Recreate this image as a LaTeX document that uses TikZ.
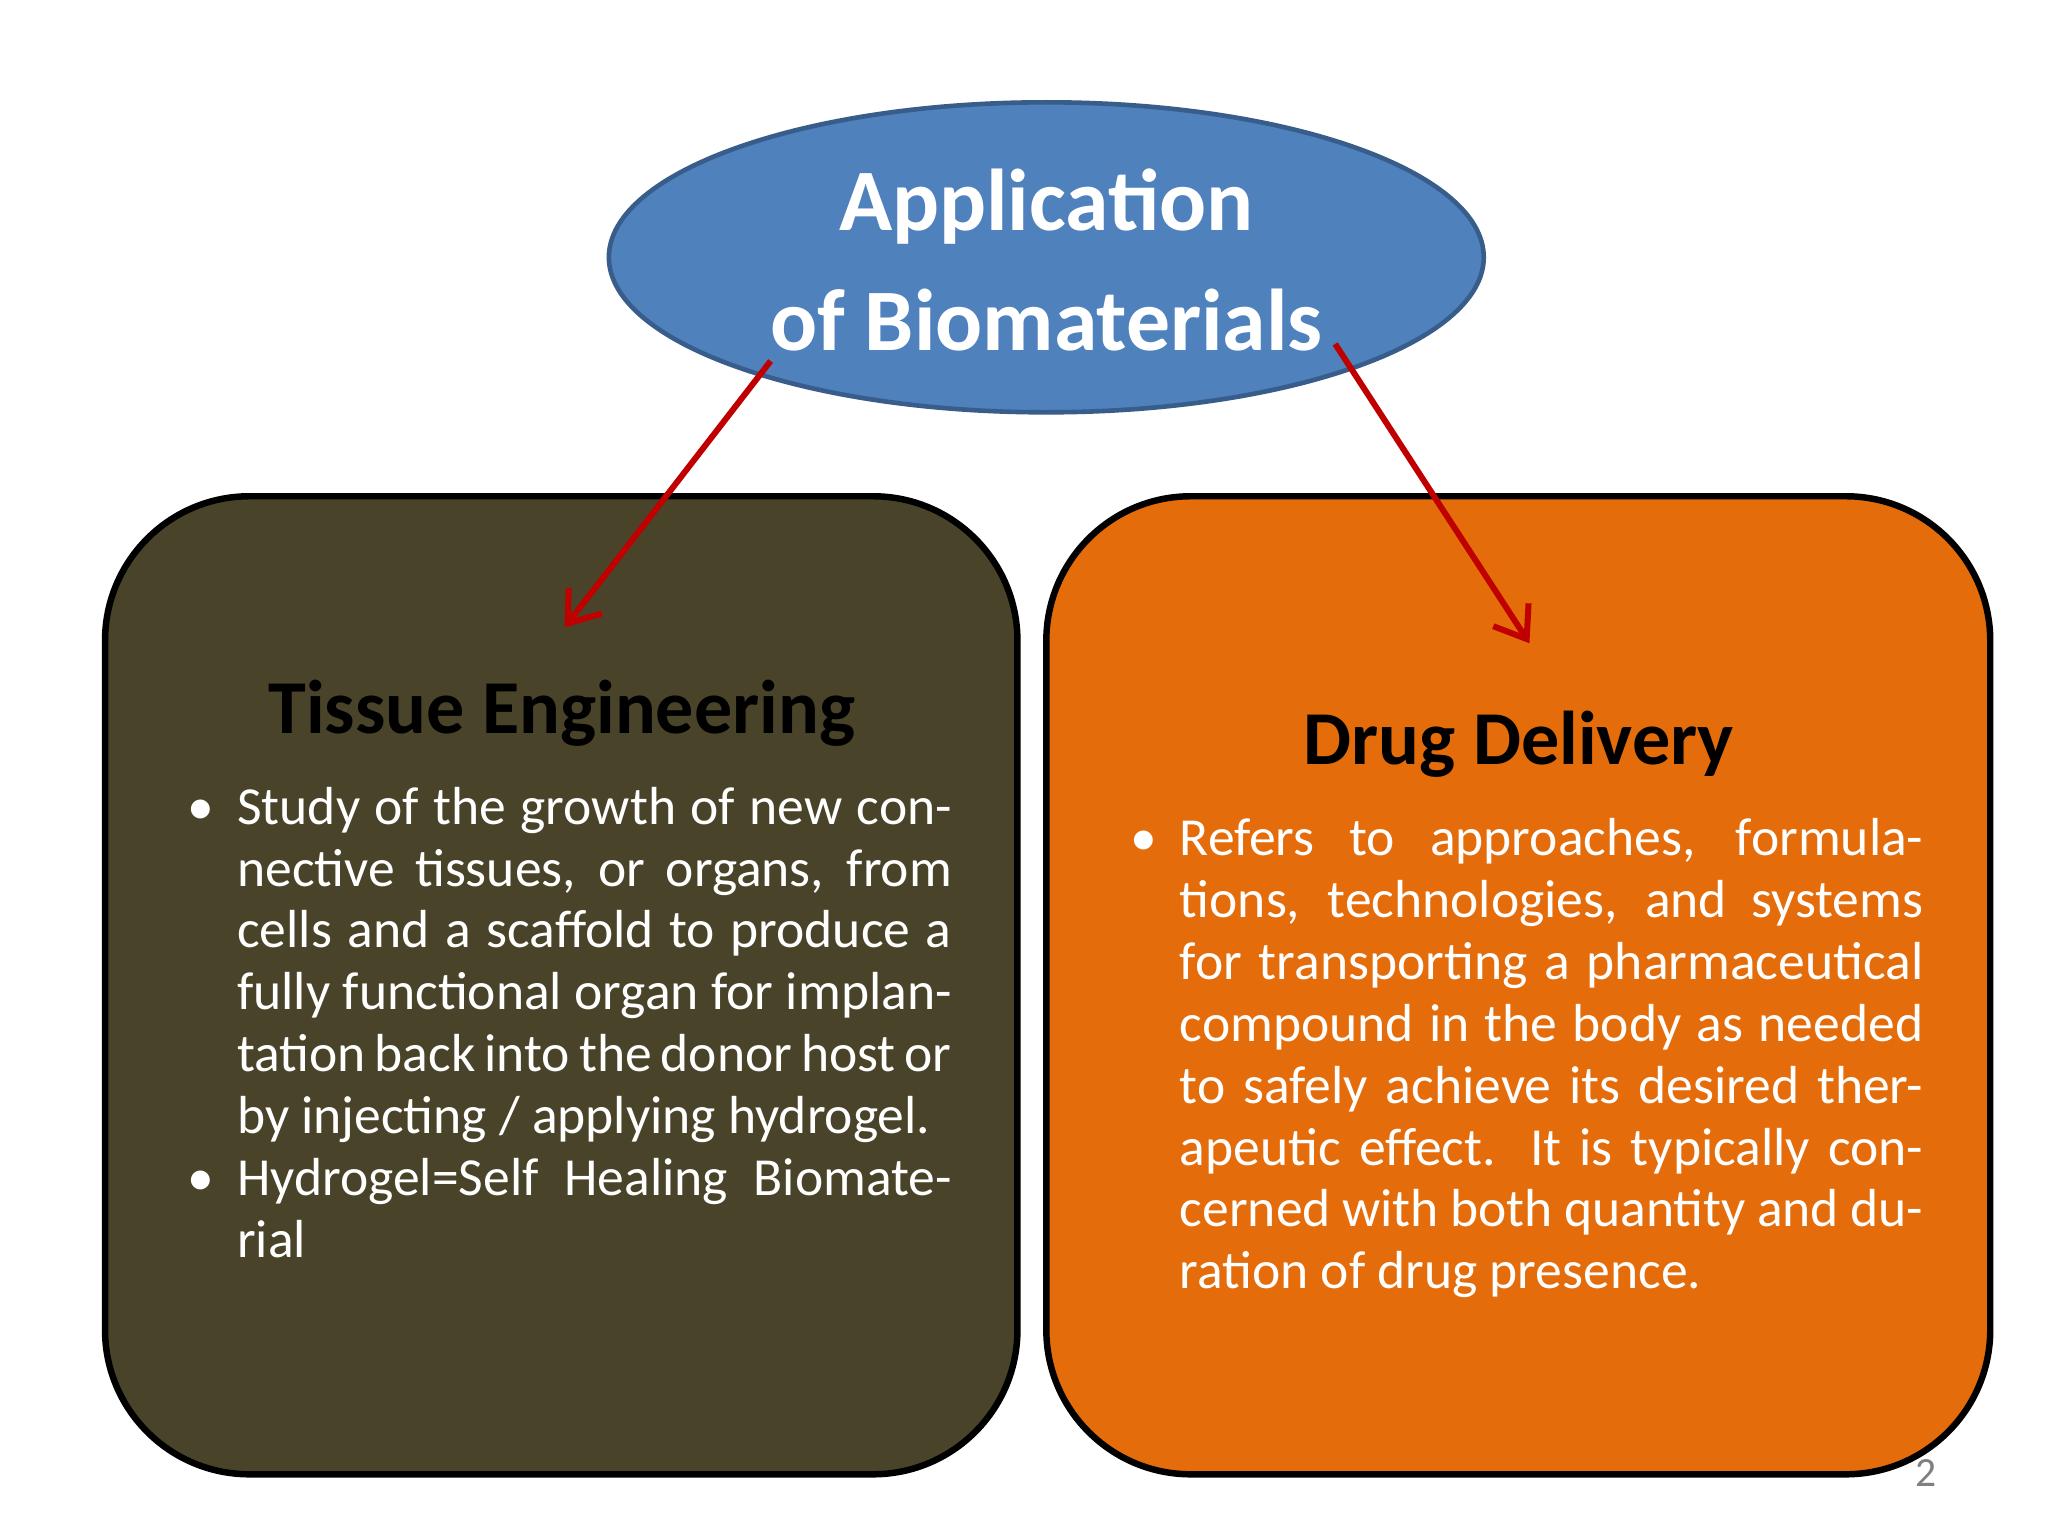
\documentclass[tikz,border=0pt]{standalone}
\usepackage{fontspec}
\setmainfont{Carlito}
\usepackage{enumitem}
\usetikzlibrary{shapes.geometric, arrows.meta}
\definecolor{ellblue}{HTML}{4F81BD}
\definecolor{ellborder}{HTML}{385D8A}
\definecolor{olive}{HTML}{494429}
\definecolor{orangebox}{HTML}{E46C0A}
\definecolor{arrowred}{HTML}{C00000}
\begin{document}
\begin{tikzpicture}[x=0.01cm, y=-0.01cm,
    card/.style   = {draw=black, line width=1.4pt, rounded corners=1.1cm},
    head/.style   = {font=\fontsize{16.5}{19}\selectfont\bfseries, text=black},
    body/.style   = {anchor=north west, inner sep=0pt, text=white, align=justify,
                     font=\fontsize{11.6}{13.4}\selectfont},
    link/.style   = {draw=arrowred, line width=1.3pt, -{Straight Barb[length=2.2mm, width=3.2mm]}}
  ]
  \useasboundingbox[fill=white] (0,0) rectangle (1560,1170);

  % ---------------- central ellipse ----------------
  \node[ellipse, draw=ellborder, line width=1pt, fill=ellblue,
        minimum width=666\pgflinewidth, inner sep=0pt,
        minimum width=6.66cm, minimum height=2.36cm] (app) at (797,196) {};
  \node[text=white, align=center, font=\fontsize{19}{26}\selectfont\bfseries]
        (apptext) at (797,198) {Application\\of Biomaterials};

  % ---------------- boxes ----------------
  \path[card, fill=olive] (80,378) rectangle (775,1123);
  \node[inner sep=0pt] (tissue) at (428,378) {};
  \path[card, fill=orangebox] (797,378) rectangle (1516,1123);
  \node[inner sep=0pt] (drug) at (1157,378) {};

  % ---------------- titles ----------------
  \node[head] (tetitle) at (428,543) {Tissue Engineering};
  \node[head] (ddtitle) at (1157,567) {Drug Delivery};

  % ---------------- texts ----------------
  \node[body, text width=5.86cm] (tetext) at (138,580) {%
    \begin{itemize}[leftmargin=0.42cm, itemsep=0pt, parsep=0pt, topsep=0pt, label=\textbullet]
      \item Study of the growth of new connective tissues, or organs, from cells and a scaffold to produce a fully functional organ for implantation back into the donor host or by injecting / applying hydrogel.
      \item Hydrogel=Self Healing Biomaterial
    \end{itemize}};
  \node[body, text width=6.09cm] (ddtext) at (855,604) {%
    \begin{itemize}[leftmargin=0.43cm, itemsep=0pt, parsep=0pt, topsep=0pt, label=\textbullet]
      \item Refers to approaches, formulations, technologies, and systems for transporting a pharmaceutical compound in the body as needed to safely achieve its desired therapeutic effect. It is typically concerned with both quantity and duration of drug presence.
    \end{itemize}};

  % ---------------- arrows ----------------
  \coordinate (tl) at (430,478);
  \coordinate (dl) at (1165,490);
  \coordinate (ts) at (587,275);
  \coordinate (ds) at (1017,262);
  \draw[link] (ts) -- (tl);
  \draw[link] (ds) -- (dl);

  % page number
  \node[text=gray, font=\fontsize{9}{10}\selectfont] (page) at (1467,1122) {2};
\end{tikzpicture}
\end{document}
